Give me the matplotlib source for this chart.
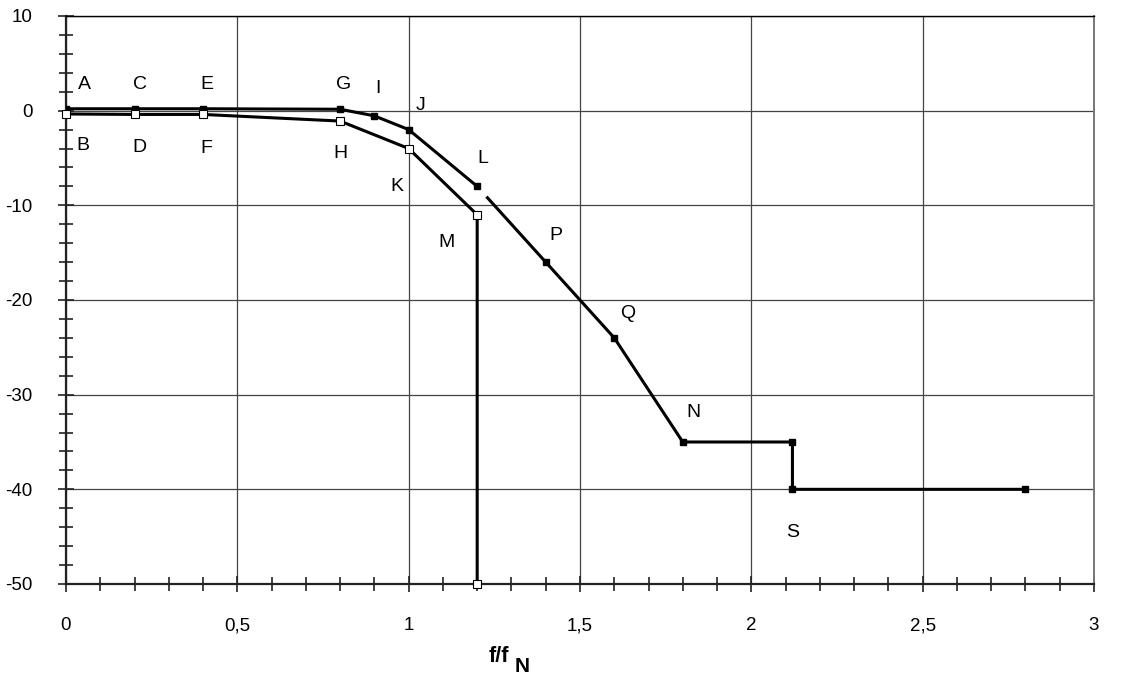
import numpy as np
import matplotlib.pyplot as plt
from matplotlib.ticker import MultipleLocator, FuncFormatter

OUTPUT_PLOT_FILE = "out.png"

# Curva superior (quadrados cheios): A C E G I J L
upper_x1 = [0.0, 0.2, 0.4, 0.8, 0.9, 1.0, 1.2]
upper_y1 = [0.2, 0.2, 0.2, 0.15, -0.55, -2.0, -8.0]
# Continuação P Q N ... S (o traço começa um pouco depois de L)
upper_x2 = [1.23, 1.4, 1.6, 1.8, 2.12, 2.12, 2.8]
upper_y2 = [-9.2, -16.0, -24.0, -35.0, -35.0, -40.0, -40.0]

# Curva inferior (quadrados vazios): B D F H K M
lower_x = [0.0, 0.2, 0.4, 0.8, 1.0, 1.2, 1.2]
lower_y = [-0.35, -0.4, -0.4, -1.1, -4.0, -11.0, -50.0]

# Letras dos pontos
point_labels = ["A", "C", "E", "G", "I", "J", "B", "D", "F", "H", "K",
                "L", "M", "P", "Q", "N", "S"]
label_x = [0.055, 0.215, 0.41, 0.81, 0.91, 1.036, 0.05, 0.215, 0.41, 0.80,
           0.965, 1.215, 1.11, 1.43, 1.64, 1.83, 2.12]
label_y = [2.8, 2.8, 2.8, 2.8, 2.3, 0.5, -3.7, -3.9, -4.0, -4.5, -8.0,
           -5.1, -13.9, -13.2, -21.4, -31.9, -44.6]


def fmt_virgula(v, pos):
    s = f"{v:g}"
    return s.replace(".", ",")


def plot_curvas():
    plt.rcParams['font.family'] = ['Liberation Sans', 'DejaVu Sans']
    plt.rcParams['axes.unicode_minus'] = False
    fig = plt.figure(figsize=(11.24, 6.89), dpi=100)
    ax = fig.add_axes([0.0587, 0.1524, 0.9146, 0.8244])

    ax.set_xlim(0, 3)
    ax.set_ylim(-50, 10)

    ax.xaxis.set_major_locator(MultipleLocator(0.5))
    ax.xaxis.set_minor_locator(MultipleLocator(0.1))
    ax.yaxis.set_major_locator(MultipleLocator(10))
    ax.yaxis.set_minor_locator(MultipleLocator(2))
    ax.xaxis.set_major_formatter(FuncFormatter(fmt_virgula))

    ax.grid(True, which='major', color='#444444', linewidth=0.9)
    ax.set_axisbelow(True)

    ax.tick_params(which='both', direction='inout', color='#222222',
                   width=1.2, labelsize=13.5)
    ax.tick_params(which='major', length=12)
    ax.tick_params(which='minor', length=10)
    ax.tick_params(axis='x', pad=18)
    ax.tick_params(axis='y', pad=18)

    for side in ['left', 'bottom']:
        ax.spines[side].set_linewidth(1.6)
        ax.spines[side].set_color('#222222')
    ax.spines['top'].set_linewidth(1.0)
    ax.spines['top'].set_color('black')
    ax.spines['right'].set_linewidth(1.4)
    ax.spines['right'].set_color('#777777')

    # Curva superior
    ax.plot(upper_x1, upper_y1, color='black', linewidth=2.2,
            marker='s', markersize=5, markerfacecolor='black',
            markeredgecolor='black', zorder=3)
    ax.plot(upper_x2, upper_y2, color='black', linewidth=2.2,
            marker='s', markersize=5, markerfacecolor='black',
            markeredgecolor='black', markevery=list(range(1, len(upper_x2))),
            zorder=3)

    # Curva inferior
    ax.plot(lower_x, lower_y, color='black', linewidth=2.2,
            marker='s', markersize=6, markerfacecolor='white',
            markeredgecolor='black', markeredgewidth=0.8, zorder=4,
            clip_on=False)

    for txt, x, y in zip(point_labels, label_x, label_y):
        ax.text(x, y, txt, fontsize=14, ha='center', va='center')

    # Rótulo do eixo x: f/f com índice N
    fig.text(499 / 1124, 1 - 657 / 689, "f/f", fontsize=15.5,
             fontweight='bold', ha='center', va='center')
    fig.text(522 / 1124, 1 - 667 / 689, "N", fontsize=15,
             fontweight='bold', ha='center', va='center')

    plt.savefig(OUTPUT_PLOT_FILE, dpi=100)
    print(f"Gráfico salvo como '{OUTPUT_PLOT_FILE}'")


def main():
    plot_curvas()


if __name__ == "__main__":
    main()
